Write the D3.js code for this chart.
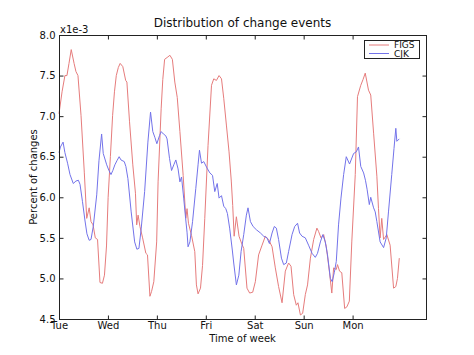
<!DOCTYPE html>
<html><head><meta charset="utf-8">
<script src="https://cdn.jsdelivr.net/npm/d3@7"></script>
<style>body{margin:0;background:#fff;} svg{display:block;} text{font-family:"DejaVu Sans",sans-serif;}</style>
</head><body>
<script>
// Data (hour of week, value in units of 1e-3)
const figsHours = [0,1.5,2.9,3.9,4.9,6.0,7.4,8.3,9.3,10.8,12.4,13.6,14.8,15.7,16.7,17.8,18.9,20.1,21.3,22.3,23.3,24.1,25.2,26.3,27.2,28.1,29.1,30.0,31.3,32.7,33.3,34.6,36.2,37.5,38.1,38.8,39.7,41.0,42.6,43.4,44.6,45.4,46.5,47.9,48.6,50.1,50.9,51.8,53.4,54.4,55.6,56.8,58.0,59.3,60.9,62.2,62.8,63.5,65.0,66.6,67.4,68.2,69.4,70.4,71.5,73.1,74.8,75.9,77.2,78.5,79.7,80.8,82.1,83.4,84.5,85.2,85.9,87.0,88.3,89.3,90.6,92.2,93.5,95.0,96.3,97.9,99.6,101.2,102.8,104.5,106.1,107.7,109.4,111.0,112.6,113.8,115.1,116.4,117.2,118.4,119.5,120.8,121.9,123.3,124.9,126.5,127.3,128.5,129.8,131.1,132.6,133.8,134.7,136.0,136.6,137.6,138.7,140.1,141.2,142.4,143.6,145.3,146.4,148.0,149.1,150.2,151.8,152.9,154.3,155.9,156.7,157.5,158.3,159.2,160.8,162.4,164.1,165.2,166.0,166.9];
const figsValues = [7.03,7.30,7.50,7.50,7.65,7.82,7.65,7.55,7.50,7.01,6.31,5.74,5.87,5.70,5.66,5.50,5.48,4.95,4.94,5.04,5.40,6.00,6.50,7.01,7.30,7.50,7.60,7.65,7.61,7.44,7.42,6.93,6.40,6.05,5.66,5.78,5.64,5.50,5.31,5.29,4.78,4.84,4.96,5.45,6.19,7.09,7.45,7.70,7.73,7.75,7.70,7.42,7.23,6.81,6.27,5.74,5.86,5.68,5.53,5.33,4.92,4.81,4.88,5.16,5.74,6.64,7.38,7.46,7.44,7.50,7.46,7.22,6.89,6.56,6.20,5.90,5.52,5.76,5.52,5.45,5.37,4.88,4.82,4.83,4.96,5.29,5.41,5.52,5.48,5.39,5.13,4.90,4.70,5.09,5.19,5.15,4.80,4.67,4.70,4.55,4.57,4.80,4.92,5.25,5.48,5.62,5.58,5.50,5.54,5.39,5.09,4.82,5.13,5.11,5.17,5.09,5.07,4.63,4.65,4.72,5.45,6.28,7.24,7.38,7.45,7.53,7.32,7.26,6.79,6.26,5.86,5.50,5.74,5.48,5.54,5.41,4.88,4.90,5.00,5.25];
const cjkHours = [0,0.7,2.0,2.9,4.2,5.4,7.0,8.3,9.5,10.3,11.5,12.7,13.7,14.8,15.7,16.8,18.5,19.6,20.9,21.7,23.4,24.5,25.5,26.4,27.4,28.4,29.5,30.4,32.0,32.8,33.8,35.4,37.1,38.2,39.2,40.3,42.0,43.6,44.9,46.0,47.0,48.0,49.3,50.1,51.2,52.3,53.0,54.2,55.2,56.3,57.3,58.4,59.3,60.1,61.2,62.1,62.8,63.3,64.2,65.5,67.1,68.2,68.9,69.9,71.0,72.6,74.0,75.3,76.4,77.6,78.5,79.7,80.8,81.8,82.6,83.7,85.0,85.7,87.0,88.2,89.3,90.6,91.9,92.7,93.9,95.2,96.8,98.8,100.4,102.0,103.2,104.5,105.6,106.6,107.7,109.1,110.2,111.5,112.6,114.3,115.6,117.0,118.0,119.2,120.8,122.4,124.1,125.7,126.8,128.2,129.4,130.6,131.7,133.1,134.0,135.0,136.0,137.1,138.3,139.6,140.9,142.5,144.5,145.8,146.9,148.0,149.4,150.3,151.1,152.2,152.9,154.3,155.1,155.9,157.5,159.2,160.5,161.6,163.2,164.3,165.2,165.7,166.9];
const cjkValues = [6.55,6.62,6.68,6.55,6.42,6.28,6.17,6.20,6.21,6.16,5.95,5.72,5.55,5.47,5.48,5.64,6.03,6.45,6.78,6.54,6.40,6.33,6.28,6.33,6.40,6.45,6.50,6.46,6.44,6.38,6.23,5.82,5.45,5.36,5.37,5.61,6.07,6.68,7.05,6.81,6.74,6.66,6.76,6.81,6.78,6.76,6.72,6.48,6.33,6.40,6.46,6.35,6.19,6.25,5.98,5.74,5.57,5.39,5.45,5.70,6.11,6.40,6.58,6.42,6.44,6.36,6.30,6.27,6.07,6.17,5.99,6.02,5.89,5.86,5.80,5.62,5.35,5.19,4.92,5.04,5.33,5.54,5.78,5.87,5.70,5.64,5.60,5.56,5.52,5.50,5.43,5.56,5.64,5.62,5.48,5.25,5.17,5.19,5.33,5.54,5.64,5.68,5.56,5.52,5.50,5.41,5.31,5.26,5.31,5.45,5.54,5.45,5.29,5.00,4.96,5.07,5.21,5.66,5.99,6.28,6.50,6.41,6.54,6.56,6.62,6.38,6.30,6.21,6.10,5.91,6.00,5.87,5.82,5.70,5.45,5.38,5.50,5.82,6.28,6.60,6.85,6.69,6.72];
const dayTicks = [0,24,48,72,96,120,144];
const dayLabels = ["Tue","Wed","Thu","Fri","Sat","Sun","Mon"];
const yTicks = [4.5,5.0,5.5,6.0,6.5,7.0,7.5,8.0];
const seriesNames = ["FIGS","CJK"];
const seriesColors = ["#e67c7c","#7373ea"];

const W = 474, H = 355;
const m = {l:59, r:426, t:35, b:319};
const svg = d3.select("body").append("svg").attr("width",W).attr("height",H);
const x = d3.scaleLinear().domain([0,180]).range([m.l,m.r]);
const y = d3.scaleLinear().domain([4.5,8.0]).range([m.b,m.t]);

const line = d3.line().x(d=>x(d[0])).y(d=>y(d[1]));
const series = [d3.zip(figsHours, figsValues), d3.zip(cjkHours, cjkValues)];
svg.selectAll("path.s").data(series).enter().append("path")
  .attr("fill","none").attr("stroke",(d,i)=>seriesColors[i]).attr("stroke-width",1)
  .attr("d",line);

// frame
svg.append("rect").attr("x",m.l+0.5).attr("y",m.t+0.5).attr("width",m.r-m.l).attr("height",m.b-m.t)
  .attr("fill","none").attr("stroke","#222").attr("stroke-width",1);

// axes with inward ticks
function styleAxis(g){ g.select(".domain").remove(); g.selectAll("line").attr("stroke","#222"); g.selectAll("text").attr("font-family","DejaVu Sans").attr("fill","#111"); }
svg.append("g").attr("transform",`translate(0,${m.b+0.5})`)
  .call(d3.axisBottom(x).tickValues(dayTicks).tickFormat((d,i)=>dayLabels[i]).tickSizeInner(-4).tickSizeOuter(0).tickPadding(2))
  .call(styleAxis).selectAll("text").attr("font-size",10);
svg.append("g").attr("transform",`translate(0,${m.t+0.5})`)
  .call(d3.axisTop(x).tickValues(dayTicks).tickFormat("").tickSizeInner(-4).tickSizeOuter(0)).call(styleAxis);
svg.append("g").attr("transform",`translate(${m.l+0.5},0)`)
  .call(d3.axisLeft(y).tickValues(yTicks).tickFormat(d3.format(".1f")).tickSizeInner(-4).tickSizeOuter(0).tickPadding(4))
  .call(styleAxis).selectAll("text").attr("font-size",10);
svg.append("g").attr("transform",`translate(${m.r+0.5},0)`)
  .call(d3.axisRight(y).tickValues(yTicks).tickFormat("").tickSizeInner(-4).tickSizeOuter(0)).call(styleAxis);

// texts
svg.append("text").attr("x",(m.l+m.r)/2).attr("y",27).attr("text-anchor","middle").attr("font-size",12).attr("fill","#111").text("Distribution of change events");
svg.append("text").attr("x",m.l+1).attr("y",32.5).attr("font-size",10).attr("fill","#111").text("x1e-3");
svg.append("text").attr("x",(m.l+m.r)/2).attr("y",342).attr("text-anchor","middle").attr("font-size",10).attr("fill","#111").text("Time of week");
svg.append("text").attr("transform",`translate(36.5,${(m.t+m.b)/2}) rotate(-90)`).attr("text-anchor","middle").attr("font-size",10).attr("fill","#111").text("Percent of changes");

// legend
const lg = svg.append("g");
lg.append("rect").attr("x",364.5).attr("y",40.5).attr("width",55).attr("height",18).attr("fill","#fff").attr("stroke","#222").attr("stroke-width",1);
seriesNames.forEach((n,i)=>{
  const yy = 45 + i*8.5;
  lg.append("line").attr("x1",369).attr("x2",389).attr("y1",yy).attr("y2",yy).attr("stroke",seriesColors[i]).attr("stroke-width",1);
  lg.append("text").attr("x",394).attr("y",yy+3.2).attr("font-size",9).attr("fill","#111").text(n);
});
</script>
</body></html>
